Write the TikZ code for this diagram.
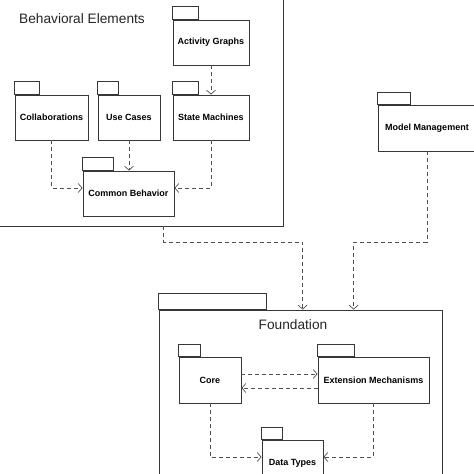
\documentclass[tikz,border=0pt]{standalone}
\usepackage{fontspec}
\setmainfont{Liberation Sans}
\usepackage{tikz}
\usetikzlibrary{arrows.meta, positioning, calc}
\definecolor{umlgray}{RGB}{55, 55, 55}
\definecolor{depgray}{RGB}{80, 80, 80}
\tikzstyle{pkg} = [draw=umlgray, line width=0.8pt, fill=white, inner sep=0pt, font=\fontsize{9}{10}\selectfont\bfseries]
\tikzstyle{pkgtitle} = [inner sep=0pt, text=black!85, font=\fontsize{13.7}{15}\selectfont]
\tikzstyle{dep} = [draw=depgray, line width=0.7pt, dash pattern=on 4pt off 3pt, -{Straight Barb[length=4pt,width=9pt]}]
\newcommand{\pkgtab}[3]{\draw[draw=umlgray, line width=0.8pt, fill=white] (#1.north west) rectangle ++(#2,-#3);}

\begin{document}
\begin{tikzpicture}[x=1pt, y=-1pt]
            \useasboundingbox (0,0) rectangle (474,474);

            % Behavioral Elements
            \node[pkg, minimum width=285pt, minimum height=227pt] (behavioral) at (140.5, 112.5) {};
            \node[pkgtitle] (behavtitle) at (82, 19) {Behavioral Elements};

            \node[pkg, minimum width=76pt, minimum height=45pt] (activity) at (211, 42.5) {Activity Graphs};
            \node[pkg, minimum width=73pt, minimum height=45pt] (collab) at (51.5, 117.5) {Collaborations};
            \node[pkg, minimum width=62pt, minimum height=45pt] (usecases) at (129, 117.5) {Use Cases};
            \node[pkg, minimum width=76pt, minimum height=45pt] (state) at (211, 117.5) {State Machines};
            \node[pkg, minimum width=91pt, minimum height=45pt] (common) at (128.5, 193.5) {Common Behavior};
            \pkgtab{activity}{26}{13}
            \pkgtab{collab}{25}{13}
            \pkgtab{usecases}{21}{13}
            \pkgtab{state}{26}{13}
            \pkgtab{common}{31}{13}

            % Model Management
            \node[pkg, minimum width=98pt, minimum height=46pt] (mm) at (427, 128) {Model Management};
            \pkgtab{mm}{33}{12}

            % Foundation
            \node[pkg, minimum width=283pt, minimum height=180pt] (foundation) at (300.5, 400) {};
            \pkgtab{foundation}{108}{16}
            \node[pkgtitle] (foundtitle) at (293, 325) {Foundation};

            \node[pkg, minimum width=62pt, minimum height=46pt] (core) at (210, 380) {Core};
            \node[pkg, minimum width=111pt, minimum height=46pt] (ext) at (373.5, 380) {Extension Mechanisms};
            \node[pkg, minimum width=61pt, minimum height=46pt] (datatypes) at (292.5, 463) {Data Types};
            \pkgtab{core}{22}{12}
            \pkgtab{ext}{37}{12}
            \pkgtab{datatypes}{21}{12}

            % Dependencies inside Behavioral Elements
            \draw[dep] (activity.south) -- (state.north);
            \draw[dep] (usecases.south) -- (usecases.south |- common.north);
            \draw[dep] (collab.south) |- ([yshift=5.5pt]common.west);
            \draw[dep] (state.south) |- ([yshift=5.5pt]common.east);

            % Dependencies on Foundation
            \draw[dep] ([xshift=166pt]behavioral.south west) -- ++(0, 16) -| ([xshift=144pt]foundation.north west);
            \draw[dep] (mm.south) -- ++(0, 91) -| ([xshift=195pt]foundation.north west);

            % Dependencies inside Foundation
            \draw[dep] ([yshift=6pt]core.east) -- ([yshift=6pt]ext.west);
            \draw[dep] ([yshift=-8pt]ext.west) -- ([yshift=-8pt]core.east);
            \draw[dep] (core.south) |- ([yshift=6pt]datatypes.west);
            \draw[dep] (ext.south) |- ([yshift=6pt]datatypes.east);
        \end{tikzpicture}
\end{document}
